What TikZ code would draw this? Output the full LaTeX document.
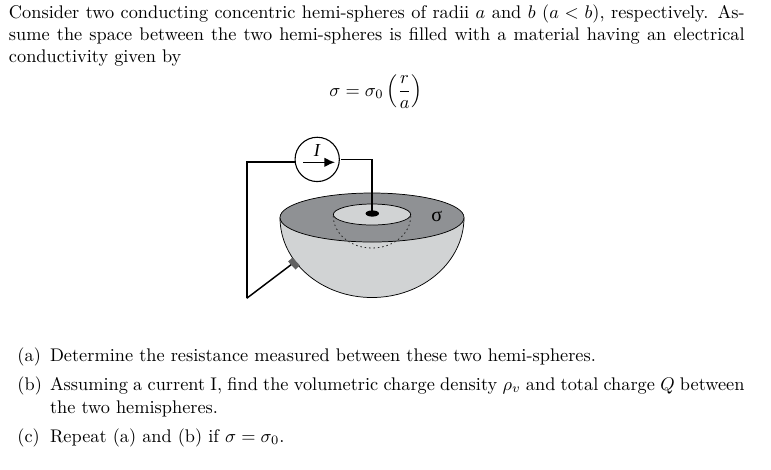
\documentclass[tikz,border=0pt]{standalone}
\usepackage{amsmath}
\usepackage{fontspec}
\newfontfamily\figfont{Liberation Serif}
\usetikzlibrary{arrows.meta,shapes.geometric}
\definecolor{darkgrey}{HTML}{8F9194}
\definecolor{lightgrey}{HTML}{D1D3D4}
\tikzset{
  textline/.style={anchor=base west,inner sep=0pt,outer sep=0pt},
  wire/.style={line width=0.95pt,black,line join=miter},
  outline/.style={line width=0.4pt,black},
  hidden/.style={line width=0.45pt,black!85,dash pattern=on 0.8pt off 1.6pt},
}
\newcommand{\fullline}[1]{\makebox[402pt][s]{#1}}
\begin{document}
\begin{tikzpicture}[x=0.5464pt,y=-0.5464pt]
\useasboundingbox (0,0) rectangle (771,469);
% text
\node[textline] (l1) at (9,18.5) {\fullline{Consider two conducting concentric hemi-spheres of radii $a$ and $b$ ($a<b$), respectively. As-}};
\node[textline] (l2) at (9,40.5) {\fullline{sume the space between the two hemi-spheres is filled with a material having an electrical}};
\node[textline] (l3) at (9,62.5) {conductivity given by};
\node[anchor=base,inner sep=0pt] (eq) at (376,96) {$\displaystyle \sigma=\sigma_0\left(\frac{r}{a}\right)$};
\node[textline] (ia) at (17.5,361) {(a)};
\node[textline] (ta) at (50,361) {Determine the resistance measured between these two hemi-spheres.};
\node[textline] (ib) at (17.5,390) {(b)};
\node[textline] (tb) at (50,390) {\makebox[379.5pt][s]{Assuming a current I, find the volumetric charge density $\rho_v$ and total charge $Q$ between}};
\node[textline] (tb2) at (50,413) {the two hemispheres.};
\node[textline] (ic) at (17.5,442) {(c)};
\node[textline] (tc) at (50,442) {Repeat (a) and (b) if $\sigma=\sigma_0$.};
% hemisphere
\fill[lightgrey] (280,217.5) arc[start angle=180,end angle=0,x radius=92,y radius=80] -- cycle;
\draw[outline] (280,217.5) arc[start angle=180,end angle=0,x radius=92,y radius=80];
\draw[outline,fill=darkgrey] (372,217.5) ellipse[x radius=92,y radius=24.5];
\draw[outline,fill=lightgrey] (372,214.5) ellipse[x radius=38.7,y radius=10.5];
\draw[hidden] (333.3,216) arc[start angle=180,end angle=0,x radius=38.7,y radius=32];
% wires
\coordinate (corner1) at (246.7,161.7);
\coordinate (corner2) at (246.7,298.3);
\coordinate (corner3) at (372.3,159.5);
\coordinate (contactend) at (292,264);
\node[circle,draw,line width=0.6pt,fill=white,minimum size=24.2pt,inner sep=0pt] (meter) at (317.2,159.4) {};
\node[ellipse,fill=black,minimum width=7.3pt,minimum height=3.4pt,inner sep=0pt] (electrode) at (372.3,213.5) {};
\draw[wire] (295,161.7) -- (corner1) -- (corner2);
\draw[line width=0.8pt] (corner2) -- (contactend);
\fill[black!62] (299.9,265.5) -- (295.5,269.5) -- (288.1,261.5) -- (292.5,257.5) -- cycle;
\draw[wire] (341,159.5) -- (corner3) -- (electrode.center);
% meter contents
\coordinate (arrowstart) at (303.3,162.3);
\coordinate (arrowend) at (335,162.3);
\draw[line width=0.8pt,-{Latex[length=5.8pt,width=5.2pt]}] (arrowstart) -- (arrowend);
\node[inner sep=0pt,font=\figfont\itshape\fontsize{10}{10}\selectfont] (ilabel) at (317,150.5) {I};
\node[inner sep=0pt,font=\figfont\fontsize{11}{11}\selectfont] (siglabel) at (436.7,216.5) {σ};
\end{tikzpicture}
\end{document}
